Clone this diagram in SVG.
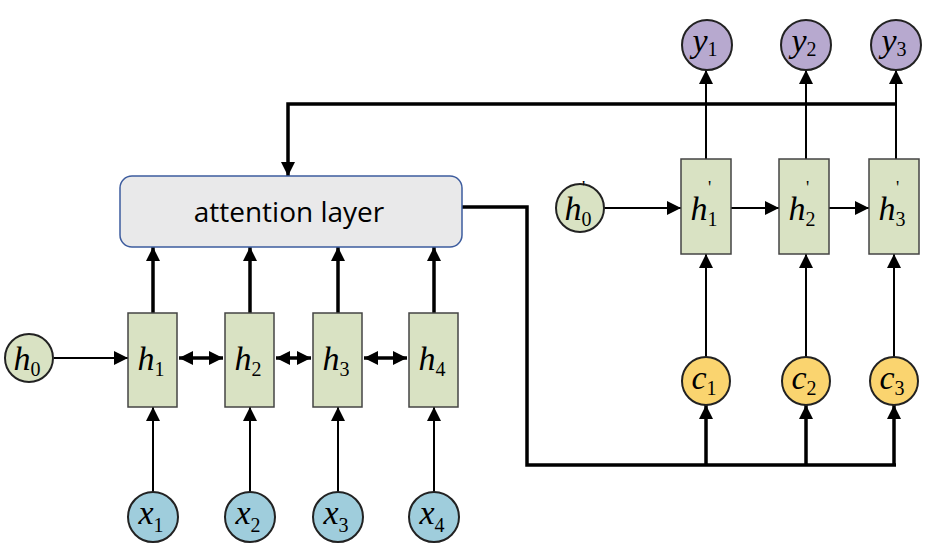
<svg xmlns="http://www.w3.org/2000/svg" width="942" height="546" viewBox="0 0 942 546">
<defs>
<marker id="b" viewBox="0 0 10 10" refX="10" refY="5" markerWidth="14" markerHeight="14" orient="auto-start-reverse" markerUnits="userSpaceOnUse"><path d="M0,0L10,5L0,10z" fill="#000"/></marker>
<style>
.box{fill:#d9e2c3;stroke:#444;stroke-width:1.5}
.h0{fill:#d9e2c3;stroke:#222;stroke-width:2}
.x{fill:#9fcddc;stroke:#222;stroke-width:2}
.y{fill:#b7a9cf;stroke:#222;stroke-width:2}
.c{fill:#fad46f;stroke:#222;stroke-width:2}
.t{font-family:'Liberation Serif','Times New Roman','DejaVu Serif',serif;font-style:italic;font-size:34px;text-anchor:middle}
.s{font-family:'Liberation Serif','DejaVu Serif',serif;font-size:20px;font-style:normal}
.p{font-family:'Liberation Serif','DejaVu Serif',serif;font-size:18px}
.l{fill:none;stroke:#000;stroke-width:2}
.k{fill:none;stroke:#000;stroke-width:3.5}
</style>
</defs>
<g id="connectors">
<path class="l" d="M54,358H128" marker-end="url(#b)"/>
<path class="k" d="M179,358H223" marker-start="url(#b)" marker-end="url(#b)"/>
<path class="k" d="M276,358H311" marker-start="url(#b)" marker-end="url(#b)"/>
<path class="k" d="M364,358H407" marker-start="url(#b)" marker-end="url(#b)"/>
<path class="l" d="M153,492V407" marker-end="url(#b)"/>
<path class="l" d="M250,492V407" marker-end="url(#b)"/>
<path class="l" d="M338,492V407" marker-end="url(#b)"/>
<path class="l" d="M434,492V407" marker-end="url(#b)"/>
<path class="k" d="M153,313V247" marker-end="url(#b)"/>
<path class="k" d="M250,313V247" marker-end="url(#b)"/>
<path class="k" d="M338,313V247" marker-end="url(#b)"/>
<path class="k" d="M434,313V247" marker-end="url(#b)"/>
<path class="k" d="M896,104H288V176" marker-end="url(#b)"/>
<path class="k" d="M462,207H527V465H896"/>
<path class="k" d="M706,465V405" marker-end="url(#b)"/>
<path class="k" d="M806,465V405" marker-end="url(#b)"/>
<path class="k" d="M894,465V405" marker-end="url(#b)"/>
<path class="l" d="M706,357V254" marker-end="url(#b)"/>
<path class="l" d="M806,357V254" marker-end="url(#b)"/>
<path class="l" d="M894,357V254" marker-end="url(#b)"/>
<path class="l" d="M706,159V70" marker-end="url(#b)"/>
<path class="l" d="M806,159V70" marker-end="url(#b)"/>
<path class="l" d="M896,159V70" marker-end="url(#b)"/>
<path class="l" d="M604,208H681" marker-end="url(#b)"/>
<path class="l" d="M731,208H779" marker-end="url(#b)"/>
<path class="l" d="M829,208H869" marker-end="url(#b)"/>
</g>
<g id="attention"><rect x="120" y="176" width="342" height="71" rx="12" fill="#e9e9ea" stroke="#3d5c9e" stroke-width="1.5"/><text x="289" y="222" font-family="'Open Sans',sans-serif" font-size="28" text-anchor="middle">attention layer</text></g>
<g id="h0"><circle class="h0" cx="29" cy="358" r="24"/><text class="t" x="27" y="370">h<tspan class="s" dy="6">0</tspan></text></g>
<g id="h1"><rect class="box" x="128" y="313" width="49" height="94"/><text class="t" x="151" y="370">h<tspan class="s" dy="6">1</tspan></text></g>
<g id="h2"><rect class="box" x="225" y="313" width="49" height="94"/><text class="t" x="248" y="370">h<tspan class="s" dy="6">2</tspan></text></g>
<g id="h3"><rect class="box" x="313" y="313" width="49" height="94"/><text class="t" x="336" y="370">h<tspan class="s" dy="6">3</tspan></text></g>
<g id="h4"><rect class="box" x="409" y="313" width="49" height="94"/><text class="t" x="432" y="370">h<tspan class="s" dy="6">4</tspan></text></g>
<g id="x1"><circle class="x" cx="153" cy="517" r="25"/><text class="t" x="151" y="524">x<tspan class="s" dy="8">1</tspan></text></g>
<g id="x2"><circle class="x" cx="250" cy="517" r="25"/><text class="t" x="248" y="524">x<tspan class="s" dy="8">2</tspan></text></g>
<g id="x3"><circle class="x" cx="338" cy="517" r="25"/><text class="t" x="336" y="524">x<tspan class="s" dy="8">3</tspan></text></g>
<g id="x4"><circle class="x" cx="434" cy="517" r="25"/><text class="t" x="432" y="524">x<tspan class="s" dy="8">4</tspan></text></g>
<g id="hp0"><circle class="h0" cx="580" cy="208" r="24"/><text class="t" x="578" y="220">h<tspan class="s" dy="6">0</tspan></text><text class="p" x="582" y="194">'</text></g>
<g id="hp1"><rect class="box" x="681" y="159" width="50" height="95"/><text class="t" x="704" y="220">h<tspan class="s" dy="6">1</tspan></text><text class="p" x="708" y="194">'</text></g>
<g id="hp2"><rect class="box" x="779" y="159" width="50" height="95"/><text class="t" x="802" y="220">h<tspan class="s" dy="6">2</tspan></text><text class="p" x="806" y="194">'</text></g>
<g id="hp3"><rect class="box" x="869" y="159" width="50" height="95"/><text class="t" x="892" y="220">h<tspan class="s" dy="6">3</tspan></text><text class="p" x="896" y="194">'</text></g>
<g id="y1"><circle class="y" cx="707" cy="45" r="25"/><text class="t" x="705" y="52">y<tspan class="s" dy="4">1</tspan></text></g>
<g id="y2"><circle class="y" cx="806" cy="45" r="25"/><text class="t" x="804" y="52">y<tspan class="s" dy="4">2</tspan></text></g>
<g id="y3"><circle class="y" cx="896" cy="45" r="25"/><text class="t" x="894" y="52">y<tspan class="s" dy="4">3</tspan></text></g>
<g id="c1"><circle class="c" cx="706" cy="381" r="24"/><text class="t" x="704" y="389">c<tspan class="s" dy="6">1</tspan></text></g>
<g id="c2"><circle class="c" cx="806" cy="381" r="24"/><text class="t" x="804" y="389">c<tspan class="s" dy="6">2</tspan></text></g>
<g id="c3"><circle class="c" cx="894" cy="381" r="24"/><text class="t" x="892" y="389">c<tspan class="s" dy="6">3</tspan></text></g>
</svg>
